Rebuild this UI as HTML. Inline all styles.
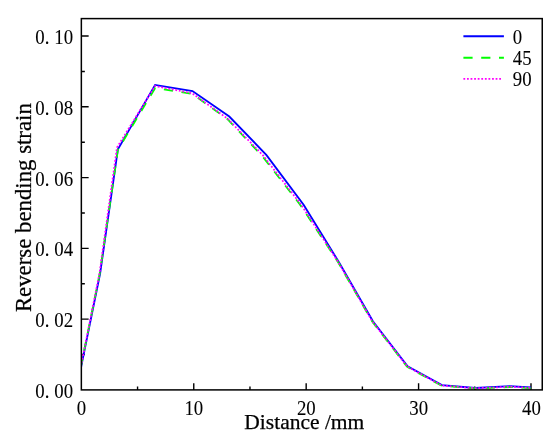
<!DOCTYPE html>
<html><head><meta charset="utf-8"><title>Reverse bending strain</title>
<style>
html,body{margin:0;padding:0;background:#fff;}
svg{display:block;}
.n{font-family:"Liberation Serif","Noto Serif CJK SC",serif;font-size:19.9px;fill:#000;stroke:#000;stroke-width:0.08px;}
.t{font-family:"Liberation Serif","Noto Serif CJK SC",serif;font-size:21.5px;fill:#000;stroke:#000;stroke-width:0.25px;}
</style></head><body>
<svg width="550" height="438" viewBox="0 0 550 438">
<defs><clipPath id="c"><rect x="81.05" y="18.6" width="460.9" height="372.30"/></clipPath></defs>
<rect width="550" height="438" fill="#fff"/>
<path d="M137.56 389.9 v-3.4 M193.76 389.9 v-6.7 M249.97 389.9 v-3.4 M306.17 389.9 v-6.7 M362.38 389.9 v-3.4 M418.58 389.9 v-6.7 M474.78 389.9 v-3.4 M530.99 389.9 v-6.7 M81.35 354.51 h3.5 M81.35 319.13 h7.3 M81.35 283.74 h3.5 M81.35 248.36 h7.3 M81.35 212.97 h3.5 M81.35 177.58 h7.3 M81.35 142.20 h3.5 M81.35 106.81 h7.3 M81.35 71.43 h3.5 M81.35 36.04 h7.3" stroke="#000" stroke-width="1.4" fill="none"/>
<g clip-path="url(#c)" fill="none" stroke-linejoin="miter">
<polyline points="79.8,373.4 81.3,366.0 100.1,273.6 117.9,149.2 155.1,84.9 192.5,91.1 229.3,116.5 266.5,155.1 303.6,204.8 338.5,261.5 372.9,321.2 407.6,366.2 441.9,385.1 475.3,388.0 509.9,386.2 531.0,387.5" stroke="#0000ff" stroke-width="1.85"/>
<polyline points="79.5,373.4 81.0,366.0 99.7,273.6 117.9,149.7 155.2,88.0 192.3,93.8 227.3,119.0 262.2,156.0 299.9,204.4 337.7,261.5 372.2,321.6 407.2,366.9 441.6,385.7 475.3,388.5 509.9,387.0 531.0,388.1" stroke="#00ff00" stroke-width="1.8" stroke-dasharray="9.2 8.6" stroke-dashoffset="-5.3"/>
<polyline points="79.5,373.5 81.0,366.0 99.5,273.3 117.0,147.5 155.0,86.0 192.0,93.2 227.5,118.6 263.2,155.6 300.9,204.4 337.9,261.5 372.3,321.4 407.3,366.6 441.7,385.5 475.3,388.3 509.9,386.7 531.0,387.9" stroke="#ff00ff" stroke-width="1.75" stroke-dasharray="1.8 1.78"/>
</g>
<rect x="81.35" y="18.6" width="460.90" height="371.30" fill="none" stroke="#000" stroke-width="1.5"/>
<path d="M463.4 36.3H503.9" stroke="#0000ff" stroke-width="2"/>
<path d="M463.4 57.7H503.9" stroke="#00ff00" stroke-width="1.95" stroke-dasharray="9.2 8.6"/>
<path d="M463.4 78.9H501.3" stroke="#ff00ff" stroke-width="1.9" stroke-dasharray="1.8 1.78"/>
<text transform="translate(512.80 43.60) scale(0.945 1)" class="n" text-anchor="start">0</text>
<text transform="translate(512.80 64.90) scale(0.945 1)" class="n" text-anchor="start">45</text>
<text transform="translate(512.80 86.40) scale(0.945 1)" class="n" text-anchor="start">90</text>
<text transform="translate(81.45 414.50) scale(0.945 1)" class="n" text-anchor="middle">0</text>
<text transform="translate(193.86 414.50) scale(0.945 1)" class="n" text-anchor="middle">10</text>
<text transform="translate(306.27 414.50) scale(0.945 1)" class="n" text-anchor="middle">20</text>
<text transform="translate(418.68 414.50) scale(0.945 1)" class="n" text-anchor="middle">30</text>
<text transform="translate(531.49 414.50) scale(0.945 1)" class="n" text-anchor="middle">40</text>
<text transform="translate(35.30 398.00) scale(0.945 1)" class="n" text-anchor="start">0.<tspan dx="5.18">00</tspan></text>
<text transform="translate(35.30 327.23) scale(0.945 1)" class="n" text-anchor="start">0.<tspan dx="5.18">02</tspan></text>
<text transform="translate(35.30 256.46) scale(0.945 1)" class="n" text-anchor="start">0.<tspan dx="5.18">04</tspan></text>
<text transform="translate(35.30 185.68) scale(0.945 1)" class="n" text-anchor="start">0.<tspan dx="5.18">06</tspan></text>
<text transform="translate(35.30 114.91) scale(0.945 1)" class="n" text-anchor="start">0.<tspan dx="5.18">08</tspan></text>
<text transform="translate(35.30 44.14) scale(0.945 1)" class="n" text-anchor="start">0.<tspan dx="5.18">10</tspan></text>
<text x="244.3" y="429.1" class="t">Distance /mm</text>
<text transform="translate(30.6 312.1) rotate(-90)" class="t" style="font-size:22.8px">Reverse bending strain</text>
</svg>
</body></html>
